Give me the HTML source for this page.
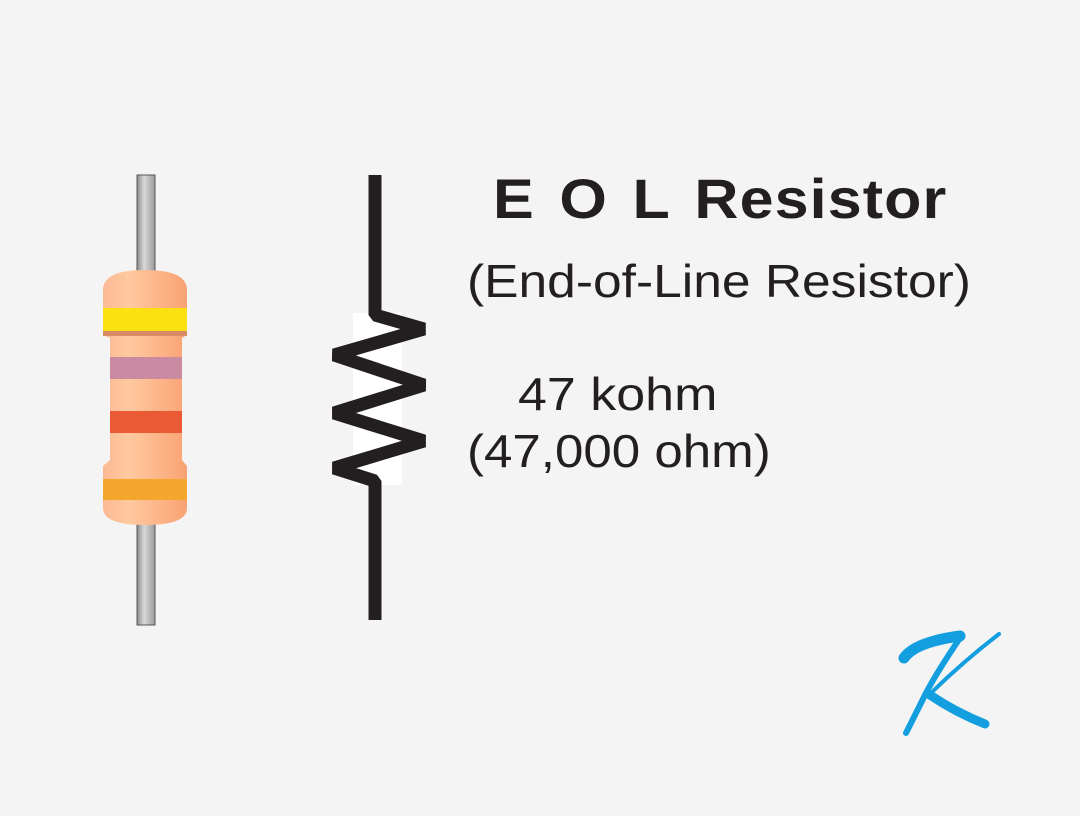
<!DOCTYPE html>
<html><head><style>
html,body{margin:0;padding:0;background:#f4f4f4;}
body{width:1080px;height:816px;position:relative;overflow:hidden;font-family:"Liberation Sans",Arial,sans-serif;color:#231f20;}
.t{position:absolute;white-space:nowrap;transform-origin:0 0;}
</style></head><body>
<svg width="1080" height="816" style="position:absolute;left:0;top:0">
<defs>
<linearGradient id="lead" x1="0" x2="1"><stop offset="0" stop-color="#8a8a8a"/><stop offset=".4" stop-color="#d8d8d8"/><stop offset="1" stop-color="#9a9a9a"/></linearGradient>
<linearGradient id="body" x1="0" x2="1"><stop offset="0" stop-color="#fbb994"/><stop offset=".3" stop-color="#ffc9a0"/><stop offset="1" stop-color="#f9a273"/></linearGradient>
</defs>
<rect x="137" y="175" width="18" height="450" fill="url(#lead)" stroke="#555" stroke-width="1"/>
<path d="M103,290 Q103,270 145,270 Q187,270 187,290 L187,335 L182,338 L182,460 L187,466 L187,508 Q187,525 145,525 Q103,525 103,508 L103,466 L110,460 L110,338 L103,335 Z" fill="url(#body)"/>
<rect x="103" y="308" width="84" height="23" fill="#fbe012"/>
<rect x="103" y="331" width="84" height="5" fill="#d98a66"/>
<rect x="110" y="357" width="72" height="22" fill="#c98aa2"/>
<rect x="110" y="411" width="72" height="22" fill="#ea5a34"/>
<rect x="103" y="479" width="84" height="21" fill="#f5a62c"/>
<rect x="353" y="313" width="49" height="172" fill="#ffffff"/>
<polyline points="375,175 375,315 424,329 334,355 424,385 334,413 424,441 334,468 375,481 375,620" fill="none" stroke="#231f20" stroke-width="13" stroke-linejoin="bevel"/>
<g fill="none" stroke="#139ee0" stroke-linecap="round">
<path d="M904,658 Q915,642 960,636" stroke-width="11"/>
<path d="M960,638 Q935,675 925,695 L906,733" stroke-width="6"/>
<path d="M999,634 Q965,660 932,692" stroke-width="4"/>
<path d="M930,695 Q955,712 985,724" stroke-width="9"/>
</g>
</svg>
<div class="t" style="left:493px;top:166px;font-size:56px;font-weight:bold;letter-spacing:1px;word-spacing:6px;transform:scaleX(1.09)">E O L Resistor</div>
<div class="t" style="left:467px;top:254px;font-size:46px;transform:scaleX(1.12)">(End-of-Line Resistor)</div>
<div class="t" style="left:518px;top:367px;font-size:46px;transform:scaleX(1.13)">47 kohm</div>
<div class="t" style="left:467px;top:424px;font-size:46px;transform:scaleX(1.11)">(47,000 ohm)</div>
</body></html>
